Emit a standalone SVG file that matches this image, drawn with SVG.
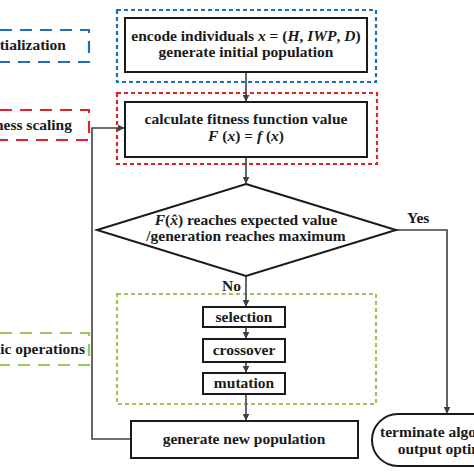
<svg xmlns="http://www.w3.org/2000/svg" width="474" height="474" viewBox="0 0 474 474">
<style>
text{font-family:"Liberation Serif","Times New Roman",serif;font-weight:bold;font-size:15.5px;fill:#1a1a1a}
.c{text-anchor:middle}
.e{text-anchor:end}
.i{font-style:italic}
.box{fill:#fff;stroke:#1a1a1a;stroke-width:2}
.conn{fill:none;stroke:#404040;stroke-width:1.6}
.blue{fill:none;stroke:#1f70b8;stroke-width:2.2}
.red{fill:none;stroke:#e0222a;stroke-width:2.2}
.green{fill:none;stroke:#9dc55a;stroke-width:2.2}
.dot{stroke-dasharray:4 3}
.dash{stroke-dasharray:12 8}
</style>
<defs>
<marker id="arr" viewBox="0 0 10 10" refX="9" refY="5" markerWidth="7" markerHeight="7" markerUnits="userSpaceOnUse" orient="auto">
<path d="M0,0 L10,5 L0,10 z" fill="#404040"/>
</marker>
</defs>
<rect width="474" height="474" fill="#fff"/>

<g id="label-init">
<rect class="blue dash" x="-40" y="30" width="129" height="32"/>
<text class="e" x="66" y="50">Initialization</text>
</g>
<g id="label-fitness">
<rect class="red dash" x="-40" y="110" width="129" height="30"/>
<text class="e" x="72" y="130">Fitness scaling</text>
</g>
<g id="label-genetic">
<rect class="green dash" x="-40" y="333" width="129" height="32"/>
<text class="e" x="85" y="354">Genetic operations</text>
</g>

<g id="group-init"><rect class="blue dot" x="117" y="10" width="259" height="72"/></g>
<g id="group-fitness"><rect class="red dot" x="117" y="93" width="260" height="71"/></g>
<g id="group-genetic"><rect class="green dot" x="117" y="294" width="259" height="110"/></g>

<g id="connectors">
<path class="conn" d="M246,72 V101" marker-end="url(#arr)"/>
<path class="conn" d="M246,157 V183" marker-end="url(#arr)"/>
<path class="conn" d="M246,276 V306" marker-end="url(#arr)"/>
<path class="conn" d="M246,327 V338" marker-end="url(#arr)"/>
<path class="conn" d="M246,362 V372" marker-end="url(#arr)"/>
<path class="conn" d="M246,394 V420" marker-end="url(#arr)"/>
<path class="conn" d="M396,230 H447 V413" marker-end="url(#arr)"/>
<path class="conn" d="M131,439 H92 V128 H124" marker-end="url(#arr)"/>
<text x="407" y="223">Yes</text>
<text x="222" y="291">No</text>
</g>

<g id="encode">
<rect class="box" x="125" y="18" width="242" height="54"/>
<text class="c" x="246" y="41">encode individuals  <tspan class="i">x</tspan> = (<tspan class="i">H</tspan>, <tspan class="i">IWP</tspan>, <tspan class="i">D</tspan>)</text>
<text class="c" x="246" y="57">generate  initial population</text>
</g>
<g id="fitness">
<rect class="box" x="125" y="102" width="242" height="55"/>
<text class="c" x="246" y="124">calculate fitness function value</text>
<text class="c" x="246" y="141"><tspan class="i">F</tspan> (<tspan class="i">x</tspan>) = <tspan class="i">f</tspan> (<tspan class="i">x</tspan>)</text>
</g>
<g id="decision">
<path class="box" d="M246,184 L396,230 L246,276 L97,230 Z"/>
<text class="c" x="246" y="225"><tspan class="i">F</tspan>(<tspan class="i">x̂</tspan>) reaches expected value</text>
<text class="c" x="246" y="241">/generation reaches maximum</text>
</g>
<g id="selection">
<rect class="box" x="203" y="307" width="82" height="20"/>
<text class="c" x="244" y="322">selection</text>
</g>
<g id="crossover">
<rect class="box" x="203" y="339" width="82" height="23"/>
<text class="c" x="244" y="355">crossover</text>
</g>
<g id="mutation">
<rect class="box" x="203" y="373" width="82" height="21"/>
<text class="c" x="244" y="388">mutation</text>
</g>
<g id="newpop">
<rect class="box" x="131" y="421" width="227" height="37"/>
<text class="c" x="244" y="444">generate new population</text>
</g>
<g id="terminate">
<rect class="box" x="372" y="414" width="150" height="52" rx="26" ry="26"/>
<text class="c" x="447" y="437">terminate algorithm</text>
<text class="c" x="447" y="454">output optimal</text>
</g>
</svg>
